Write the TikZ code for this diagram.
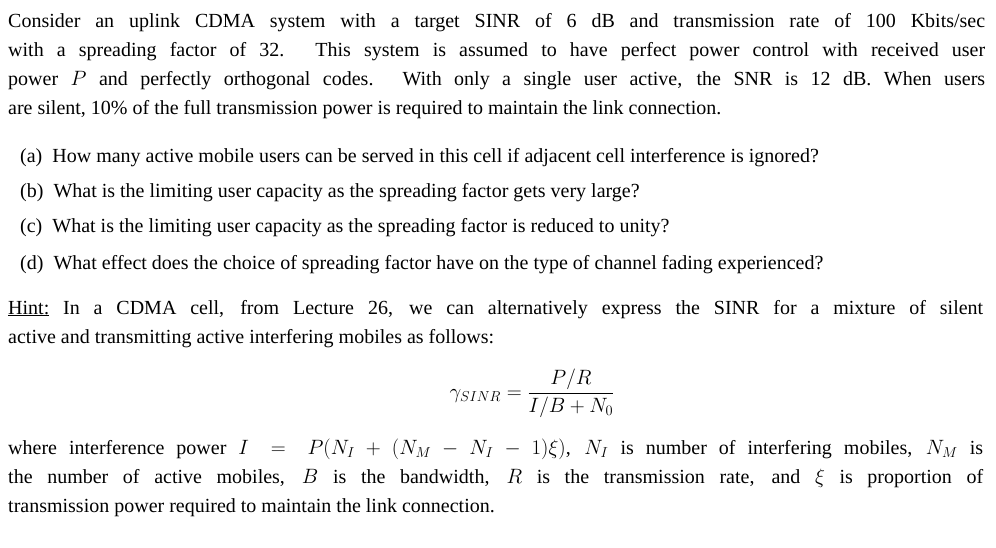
\documentclass[tikz,border=0pt]{standalone}
\usepackage{fontspec}
\setmainfont{Liberation Serif}
\begin{document}
\begin{tikzpicture}[x=1pt,y=1pt,
  ln/.style={anchor=base west,inner sep=0pt,font=\fontsize{20}{29}\selectfont}]
\useasboundingbox (0,0) rectangle (996,-547);
\node[ln] (l1) at (8,-27) {\hbox to 977pt{Consider an uplink CDMA system with a target SINR of 6 dB and transmission rate of 100 Kbits/sec}};
\node[ln] (l2) at (8,-56) {\hbox to 977pt{with a spreading factor of 32. This system is assumed to have perfect power control with received user}};
\node[ln] (l3) at (8,-85) {\hbox to 977pt{power $P$ and perfectly orthogonal codes. With only a single user active, the SNR is 12 dB. When users}};
\node[ln] (l4) at (8,-114) {are silent, 10\% of the full transmission power is required to maintain the link connection.};
\node[ln] (a) at (20,-162) {(a)\hspace{0.5em}How many active mobile users can be served in this cell if adjacent cell interference is ignored?};
\node[ln] (b) at (20,-197) {(b)\hspace{0.5em}What is the limiting user capacity as the spreading factor gets very large?};
\node[ln] (c) at (20,-232) {(c)\hspace{0.5em}What is the limiting user capacity as the spreading factor is reduced to unity?};
\node[ln] (d) at (20,-269) {(d)\hspace{0.5em}What effect does the choice of spreading factor have on the type of channel fading experienced?};
\node[ln] (h1) at (8,-314) {\hbox to 975pt{\underline{Hint:} In a CDMA cell, from Lecture 26, we can alternatively express the SINR for a mixture of silent}};
\node[ln] (h2) at (8,-343) {active and transmitting active interfering mobiles as follows:};
\node[inner sep=0pt,font=\fontsize{20}{29}\selectfont] (eq) at (532,-393) {$\gamma_{SINR} = \displaystyle\frac{P/R}{I/B+N_0}$};
\node[ln] (w1) at (8,-454) {\hbox to 975pt{where interference power $I=P(N_I+(N_M-N_I-1)\xi)$, $N_I$ is number of interfering mobiles, $N_M$ is}};
\node[ln] (w2) at (8,-483) {\hbox to 975pt{the number of active mobiles, $B$ is the bandwidth, $R$ is the transmission rate, and $\xi$ is proportion of}};
\node[ln] (w3) at (8,-512) {transmission power required to maintain the link connection.};
\end{tikzpicture}
\end{document}
